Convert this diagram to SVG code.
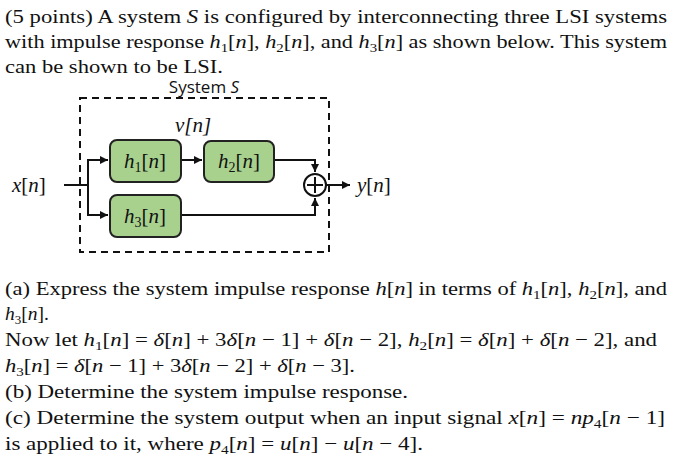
<svg xmlns="http://www.w3.org/2000/svg" width="700" height="470" viewBox="0 0 700 470">
<style>
.t{font-family:"Liberation Serif",serif;font-size:19.5px;fill:#111}
.i{font-style:italic}
.s{font-size:13px}
.d{font-family:"Open Sans","Liberation Sans",sans-serif;font-size:17px;fill:#111}
.m{font-family:"Liberation Serif",serif;font-size:21px;fill:#111;font-style:italic}
.box{fill:#a9d18e;stroke:#222;stroke-width:2}
.ln{fill:none;stroke:#111;stroke-width:2}
</style>
<defs><marker id="a" viewBox="0 0 10 10" refX="10" refY="5" markerWidth="4" markerHeight="4" orient="auto"><path d="M0,0L10,5L0,10z" fill="#111"/></marker></defs>
<rect width="700" height="470" fill="#fff"/>
<text class="t" x="5" y="23" textLength="662" lengthAdjust="spacingAndGlyphs">(5 points) A system <tspan class="i">S</tspan> is configured by interconnecting three LSI systems</text>
<text class="t" x="5" y="48" textLength="662" lengthAdjust="spacingAndGlyphs">with impulse response <tspan class="i">h</tspan><tspan class="s" dy="4">1</tspan><tspan dy="-4">[</tspan><tspan class="i">n</tspan>], <tspan class="i">h</tspan><tspan class="s" dy="4">2</tspan><tspan dy="-4">[</tspan><tspan class="i">n</tspan>], and <tspan class="i">h</tspan><tspan class="s" dy="4">3</tspan><tspan dy="-4">[</tspan><tspan class="i">n</tspan>] as shown below.  This system</text>
<text class="t" x="5" y="73" textLength="218" lengthAdjust="spacingAndGlyphs">can be shown to be LSI.</text>
<g id="frame"><rect x="80" y="98" width="249" height="154" fill="none" stroke="#111" stroke-width="2" stroke-dasharray="7,5"/>
<text class="d" x="204" y="93" text-anchor="middle">System <tspan font-style="italic">S</tspan></text>
<text class="m" x="193" y="132" text-anchor="middle">v[n]</text></g>
<g id="connectors">
<path class="ln" d="M64,185H88"/>
<path class="ln" d="M88,185V160H108" marker-end="url(#a)"/>
<path class="ln" d="M88,185V215H108" marker-end="url(#a)"/>
<path class="ln" d="M181,160H202" marker-end="url(#a)"/>
<path class="ln" d="M274,160H315V172" marker-end="url(#a)"/>
<path class="ln" d="M181,215H315V198" marker-end="url(#a)"/>
<path class="ln" d="M326,185H350" marker-end="url(#a)"/>
</g>
<g id="h1"><rect class="box" x="110" y="140" width="71" height="42" rx="7"/><text class="m" x="145" y="168" text-anchor="middle">h<tspan font-size="14" dy="4" font-style="normal">1</tspan><tspan dy="-4" font-style="normal">[</tspan>n<tspan font-style="normal">]</tspan></text></g>
<g id="h2"><rect class="box" x="204" y="141" width="70" height="41" rx="7"/><text class="m" x="239" y="168" text-anchor="middle">h<tspan font-size="14" dy="4" font-style="normal">2</tspan><tspan dy="-4" font-style="normal">[</tspan>n<tspan font-style="normal">]</tspan></text></g>
<g id="h3"><rect class="box" x="110" y="195" width="71" height="42" rx="7"/><text class="m" x="145" y="223" text-anchor="middle">h<tspan font-size="14" dy="4" font-style="normal">3</tspan><tspan dy="-4" font-style="normal">[</tspan>n<tspan font-style="normal">]</tspan></text></g>
<g id="sum"><circle cx="315" cy="185" r="11" fill="#fff" stroke="#111" stroke-width="2"/><path class="ln" d="M307,185H323M315,177V193"/></g>
<g id="x"><text class="m" x="12" y="192">x<tspan font-style="normal">[</tspan>n<tspan font-style="normal">]</tspan></text></g>
<g id="y"><text class="m" x="357" y="192">y<tspan font-style="normal">[</tspan>n<tspan font-style="normal">]</tspan></text></g>
<text class="t" x="5" y="295" textLength="662" lengthAdjust="spacingAndGlyphs">(a) Express the system impulse response <tspan class="i">h</tspan>[<tspan class="i">n</tspan>] in terms of <tspan class="i">h</tspan><tspan class="s" dy="4">1</tspan><tspan dy="-4">[</tspan><tspan class="i">n</tspan>], <tspan class="i">h</tspan><tspan class="s" dy="4">2</tspan><tspan dy="-4">[</tspan><tspan class="i">n</tspan>], and</text>
<text class="t" x="5" y="320"><tspan class="i">h</tspan><tspan class="s" dy="4">3</tspan><tspan dy="-4">[</tspan><tspan class="i">n</tspan>].</text>
<text class="t" x="5" y="346" textLength="652" lengthAdjust="spacingAndGlyphs">Now let <tspan class="i">h</tspan><tspan class="s" dy="4">1</tspan><tspan dy="-4">[</tspan><tspan class="i">n</tspan>] = <tspan class="i">δ</tspan>[<tspan class="i">n</tspan>] + 3<tspan class="i">δ</tspan>[<tspan class="i">n</tspan> − 1] + <tspan class="i">δ</tspan>[<tspan class="i">n</tspan> − 2], <tspan class="i">h</tspan><tspan class="s" dy="4">2</tspan><tspan dy="-4">[</tspan><tspan class="i">n</tspan>] = <tspan class="i">δ</tspan>[<tspan class="i">n</tspan>] + <tspan class="i">δ</tspan>[<tspan class="i">n</tspan> − 2], and</text>
<text class="t" x="5" y="372" textLength="350" lengthAdjust="spacingAndGlyphs"><tspan class="i">h</tspan><tspan class="s" dy="4">3</tspan><tspan dy="-4">[</tspan><tspan class="i">n</tspan>] = <tspan class="i">δ</tspan>[<tspan class="i">n</tspan> − 1] + 3<tspan class="i">δ</tspan>[<tspan class="i">n</tspan> − 2] + <tspan class="i">δ</tspan>[<tspan class="i">n</tspan> − 3].</text>
<text class="t" x="5" y="398" textLength="403" lengthAdjust="spacingAndGlyphs">(b) Determine the system impulse response.</text>
<text class="t" x="5" y="424" textLength="660" lengthAdjust="spacingAndGlyphs">(c) Determine the system output when an input signal <tspan class="i">x</tspan>[<tspan class="i">n</tspan>] = <tspan class="i">np</tspan><tspan class="s" dy="4">4</tspan><tspan dy="-4">[</tspan><tspan class="i">n</tspan> − 1]</text>
<text class="t" x="5" y="450" textLength="418" lengthAdjust="spacingAndGlyphs">is applied to it, where <tspan class="i">p</tspan><tspan class="s" dy="4">4</tspan><tspan dy="-4">[</tspan><tspan class="i">n</tspan>] = <tspan class="i">u</tspan>[<tspan class="i">n</tspan>] − <tspan class="i">u</tspan>[<tspan class="i">n</tspan> − 4].</text>
</svg>
